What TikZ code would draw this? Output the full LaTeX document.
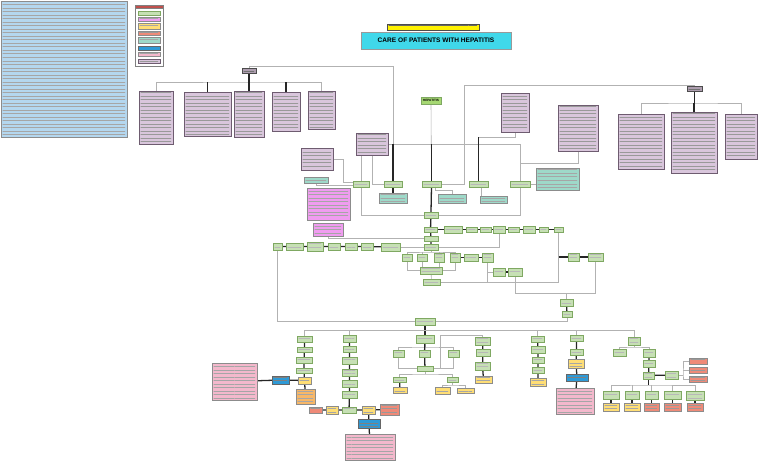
\documentclass[tikz,border=0pt]{standalone}
\usepackage{fontspec}
\setsansfont{Liberation Sans}
\usepackage{tikz}
\usetikzlibrary{patterns,calc,backgrounds}

\definecolor{infoblue}{HTML}{B4D7EF}
\definecolor{grn}{HTML}{C6E0B4}
\definecolor{grnline}{HTML}{7FA862}
\definecolor{hepgrn}{HTML}{A6D873}
\definecolor{mauve}{HTML}{D9C6DC}
\definecolor{mauveline}{HTML}{6E5C70}
\definecolor{tealc}{HTML}{9ED9C9}
\definecolor{magc}{HTML}{F09CF0}
\definecolor{pinkc}{HTML}{F4B8CC}
\definecolor{yelc}{HTML}{FFDE75}
\definecolor{salc}{HTML}{EF8A78}
\definecolor{orc}{HTML}{F7B768}
\definecolor{bluec}{HTML}{2F9AD6}
\definecolor{titlec}{HTML}{40D8EA}
\definecolor{legred}{HTML}{C0504D}

% box from its pixel corners: style, name, x1, y1, x2, y2
\newcommand{\mkbox}[6]{\node[#1,minimum width={(#5-#3)*0.3mm},minimum height={(#6-#4)*0.3mm}] (#2) at ({(#3+#5)/2},{(#4+#6)/2}) {};}

\begin{document}
\begin{tikzpicture}[x=0.3mm,y=-0.3mm,
  every node/.style={inner sep=0pt,outer sep=0pt},
  txt/.style={path picture={\fill[pattern=horizontal lines,pattern color=#1]
    ($(path picture bounding box.south west)+(1.4pt,1.1pt)$) rectangle
    ($(path picture bounding box.north east)+(-1.6pt,-1.3pt)$);}},
  txt/.default=black!40,
  ibox/.style={fill=infoblue,draw=black!45,line width=0.3pt,txt=black!35},
  legbox/.style={fill=white,draw=black!50,line width=0.3pt},
  leghead/.style={fill=legred,draw=black!50,line width=0.3pt},
  gbox/.style={fill=grn,draw=grnline,line width=0.3pt,txt=black!28},
  hepbox/.style={fill=hepgrn,draw=grnline,line width=0.4pt},
  mbox/.style={fill=mauve,draw=mauveline,line width=0.4pt,txt},
  mhead/.style={fill=mauve!80!black,draw=black!70,line width=0.4pt,txt=black!55},
  tbox/.style={fill=tealc,draw=black!45,line width=0.3pt,txt=black!35},
  vbox/.style={fill=magc,draw=black!45,line width=0.3pt,txt=black!35},
  pbox/.style={fill=pinkc,draw=black!45,line width=0.3pt,txt=black!35},
  ybox/.style={fill=yelc,draw=black!45,line width=0.3pt,txt=black!35},
  sbox/.style={fill=salc,draw=black!45,line width=0.3pt,txt=black!40},
  obox/.style={fill=orc,draw=black!45,line width=0.3pt,txt=black!35},
  bbox/.style={fill=bluec,draw=black!60,line width=0.3pt,txt=black!50},
  banner/.style={fill=yellow,draw=black!70,line width=0.4pt,txt=black!60},
  tbanner/.style={fill=titlec,draw=black!40,line width=0.3pt},
  ln/.style={draw=black!30,line width=0.5pt},
  tk/.style={draw=black!85,line width=1.1pt}]
\useasboundingbox (0,0) rectangle (768,462);

% info and legend
\mkbox{ibox}{info}{1}{1}{127}{137}
\mkbox{legbox}{legend}{135}{5}{163}{66}
\mkbox{leghead}{leghd}{135}{5}{163}{8.5}
\mkbox{gbox}{lg1}{138}{11}{160}{15}
\mkbox{vbox}{lg2}{138}{17}{160}{21}
\mkbox{ybox}{lg3}{138}{23}{160}{29}
\mkbox{sbox}{lg4}{138}{31}{160}{35}
\mkbox{tbox}{lg5}{138}{37}{160}{43}
\mkbox{bbox}{lg6}{138}{46}{160}{50}
\mkbox{pbox}{lg7}{138}{52}{160}{56}
\mkbox{mbox}{lg8}{138}{59}{160}{63}

% title
\mkbox{banner}{ban}{387}{24}{479}{30}
\mkbox{tbanner}{ttl}{361}{32}{511}{49}
\node (ttltxt) at (ttl) {\sffamily\bfseries\fontsize{5.6}{6}\selectfont CARE OF PATIENTS WITH HEPATITIS};

% left group
\mkbox{mhead}{mA}{242}{68}{256}{73}
\mkbox{mbox}{mA1}{139}{91}{173}{144}
\mkbox{mbox}{mA2}{184}{92}{231}{136}
\mkbox{mbox}{mA3}{234}{91}{264}{137}
\mkbox{mbox}{mA4}{272}{92}{300}{131}
\mkbox{mbox}{mA5}{308}{91}{335}{129}

% right group
\mkbox{mhead}{mB}{687}{86}{702}{91}
\mkbox{mbox}{mB1}{618}{114}{664}{169}
\mkbox{mbox}{mB2}{671}{112}{717}{173}
\mkbox{mbox}{mB3}{725}{114}{757}{159}

\mkbox{hepbox}{hep}{421}{97}{441}{104}
\node (heptxt) at (hep) {\sffamily\bfseries\fontsize{2.7}{3}\selectfont HEPATITIS};

\mkbox{mbox}{mC}{301}{148}{333}{170}
\mkbox{mbox}{mD}{356}{133}{388}{155}
\mkbox{mbox}{mE}{501}{93}{529}{132}
\mkbox{mbox}{mF}{558}{105}{598}{151}

% types row
\mkbox{gbox}{g1}{353}{181}{369}{187}
\mkbox{gbox}{g2}{384}{181}{402}{187}
\mkbox{gbox}{g3}{422}{181}{441}{187}
\mkbox{gbox}{g4}{469}{181}{488}{187}
\mkbox{gbox}{g5}{510}{181}{530}{187}
\mkbox{tbox}{tA}{304}{177}{328}{183}
\mkbox{tbox}{tB}{379}{193}{407}{203}
\mkbox{tbox}{tC}{438}{194}{466}{203}
\mkbox{tbox}{tD}{480}{196}{507}{203}
\mkbox{tbox}{tE}{536}{168}{579}{190}
\mkbox{vbox}{pA}{307}{188}{350}{220}
\mkbox{vbox}{pB}{313}{223}{343}{236}

% central chain
\mkbox{gbox}{X1}{424}{212}{438}{218}
\mkbox{gbox}{X2}{424}{227}{437}{232}
\mkbox{gbox}{X3}{424}{236}{438}{241}
\mkbox{gbox}{X4}{424}{244}{438}{250}
\mkbox{gbox}{R1}{444}{226}{462}{233}
\mkbox{gbox}{R2}{466}{227}{477}{232}
\mkbox{gbox}{R3}{480}{227}{491}{232}
\mkbox{gbox}{R4}{493}{226}{505}{233}
\mkbox{gbox}{R5}{508}{227}{519}{232}
\mkbox{gbox}{R6}{523}{226}{535}{233}
\mkbox{gbox}{R7}{539}{227}{548}{232}
\mkbox{gbox}{R8}{554}{227}{563}{232}
\mkbox{gbox}{S1}{568}{253}{579}{261}
\mkbox{gbox}{S2}{588}{253}{603}{261}
\mkbox{gbox}{T1}{560}{299}{573}{306}
\mkbox{gbox}{T2}{562}{311}{572}{317}
\mkbox{gbox}{L1}{273}{243}{282}{250}
\mkbox{gbox}{L2}{286}{243}{303}{250}
\mkbox{gbox}{L3}{307}{242}{323}{251}
\mkbox{gbox}{L4}{328}{243}{340}{250}
\mkbox{gbox}{L5}{345}{243}{357}{250}
\mkbox{gbox}{L6}{361}{243}{373}{250}
\mkbox{gbox}{L7}{381}{243}{400}{251}
\mkbox{gbox}{B1}{402}{254}{412}{261}
\mkbox{gbox}{B2}{417}{254}{427}{261}
\mkbox{gbox}{B3}{434}{253}{444}{262}
\mkbox{gbox}{B4}{450}{253}{460}{262}
\mkbox{gbox}{B5}{464}{254}{478}{261}
\mkbox{gbox}{B6}{482}{253}{493}{262}
\mkbox{gbox}{M1}{420}{267}{442}{274}
\mkbox{gbox}{Y2}{423}{279}{440}{285}
\mkbox{gbox}{Q1}{493}{268}{505}{276}
\mkbox{gbox}{Q2}{508}{268}{522}{276}
\mkbox{gbox}{H}{415}{318}{435}{325}

% column A
\mkbox{gbox}{a1}{297}{336}{312}{342}
\mkbox{gbox}{a2}{297}{347}{312}{352}
\mkbox{gbox}{a3}{296}{357}{312}{363}
\mkbox{gbox}{a4}{296}{368}{312}{373}
\mkbox{ybox}{a5}{298}{377}{311}{384}
\mkbox{obox}{a6}{296}{389}{315}{404}
\mkbox{bbox}{aB}{272}{376}{289}{384}
\mkbox{pbox}{aP}{212}{363}{257}{400}

% column B
\mkbox{gbox}{b1}{343}{335}{356}{342}
\mkbox{gbox}{b2}{343}{346}{356}{352}
\mkbox{gbox}{b3}{342}{357}{357}{364}
\mkbox{gbox}{b4}{342}{369}{357}{376}
\mkbox{gbox}{b5}{342}{380}{357}{387}
\mkbox{gbox}{b6}{342}{391}{357}{398}
\mkbox{gbox}{b7}{342}{407}{356}{413}
\mkbox{sbox}{bS1}{309}{407}{322}{413}
\mkbox{ybox}{bY1}{326}{406}{338}{414}
\mkbox{ybox}{bY2}{362}{406}{375}{414}
\mkbox{sbox}{bS2}{380}{404}{399}{415}
\mkbox{bbox}{bB}{358}{419}{380}{428}
\mkbox{pbox}{bP}{345}{434}{395}{460}

% column C
\mkbox{gbox}{c1}{416}{335}{434}{343}
\mkbox{gbox}{c2}{393}{350}{404}{357}
\mkbox{gbox}{c3}{419}{350}{430}{357}
\mkbox{gbox}{c4}{448}{350}{459}{357}
\mkbox{gbox}{cm}{417}{366}{433}{371}
\mkbox{gbox}{c5}{393}{377}{406}{382}
\mkbox{gbox}{c6}{447}{377}{458}{382}
\mkbox{ybox}{c7}{393}{387}{407}{393}
\mkbox{ybox}{c8}{435}{387}{450}{394}
\mkbox{ybox}{c9}{457}{388}{474}{393}
\mkbox{gbox}{cR1}{475}{337}{490}{345}
\mkbox{gbox}{cR2}{476}{349}{490}{356}
\mkbox{gbox}{cR3}{475}{362}{490}{370}
\mkbox{ybox}{cY}{475}{376}{492}{383}

% column D
\mkbox{gbox}{d1}{531}{336}{544}{342}
\mkbox{gbox}{d2}{531}{346}{545}{353}
\mkbox{gbox}{d3}{532}{357}{544}{363}
\mkbox{gbox}{d4}{532}{367}{544}{373}
\mkbox{ybox}{d5}{530}{378}{546}{386}

% column E
\mkbox{gbox}{e1}{570}{335}{583}{341}
\mkbox{gbox}{e2}{570}{349}{583}{355}
\mkbox{ybox}{e3}{568}{359}{584}{368}
\mkbox{bbox}{e4}{566}{374}{588}{381}
\mkbox{pbox}{e5}{556}{388}{594}{414}

% column F
\mkbox{gbox}{f1}{628}{337}{640}{345}
\mkbox{gbox}{f2}{613}{349}{626}{356}
\mkbox{gbox}{f3}{643}{349}{655}{357}
\mkbox{gbox}{f4}{643}{360}{655}{367}
\mkbox{gbox}{f5}{643}{372}{654}{379}
\mkbox{gbox}{f6}{665}{371}{678}{379}
\mkbox{sbox}{fS1}{689}{358}{707}{364}
\mkbox{sbox}{fS2}{689}{367}{707}{373}
\mkbox{sbox}{fS3}{689}{376}{707}{382}
\mkbox{gbox}{f7}{603}{391}{619}{399}
\mkbox{gbox}{f8}{625}{391}{639}{399}
\mkbox{gbox}{f9}{645}{391}{658}{399}
\mkbox{gbox}{f10}{664}{391}{681}{399}
\mkbox{gbox}{f11}{686}{391}{704}{400}
\mkbox{ybox}{f12}{603}{403}{619}{411}
\mkbox{ybox}{f13}{624}{403}{640}{411}
\mkbox{sbox}{f14}{644}{403}{659}{411}
\mkbox{sbox}{f15}{664}{403}{681}{411}
\mkbox{sbox}{f16}{687}{403}{703}{411}

\begin{scope}[on background layer]
% top groups
\draw[tk] (mA.south) -- ++(0,9) coordinate (barA);
\draw[ln] (mA1.north) |- (barA) -| (mA5.north);
\draw[tk] (mA2.north) -- (mA2.north |- barA);
\draw[tk] (mA3.north) -- (mA3.north |- barA);
\draw[tk] (mA4.north) -- (mA4.north |- barA);
\draw[ln] (mA.north) -- ++(0,-2) -| (g2.north);
\draw[tk] (mB.south) -- ++(0,12) coordinate (barB);
\draw[ln] (mB1.north) |- (barB) -| (mB3.north);
\draw[tk] (mB2.north) -- (mB2.north |- barB);
\draw[ln] (mB.north) -- ++(0,-1) -| ($(g3.east)+(23,0)$) -- (g3.east);
\draw[ln] (hep.south) -- (g3.north);
\draw[ln] (mD.east) -| (g5.north);
\draw[tk] (g2.north) -- (g2.north |- mD.east);
\draw[tk] (g3.north) -- (g3.north |- mD.east);
\draw[ln] (mE.south) -- ++(0,5) -| (g4.north);
\draw[tk] (g4.north) -- ++(0,-44);
\draw[ln] (mF.south) -- ++(0,12) -| (g5.north);
\draw[ln] (g1.north) -- (g1.north |- mD.south);
\draw[ln] (mD.south) |- (g2.west);
\draw[ln] (mC.east) -- ++(10,0) |- ($(g1.west)+(0,-1.5)$);
\draw[ln] (tA.south) |- ($(g1.west)+(0,1.5)$);
% types row
\draw[ln] (g1.south) |- (X1.west);
\draw[tk] (g2.south) -- (g2.south |- tB.north);
\draw[tk] (g3.south) -- (X1.north);
\draw[ln] (tC.north) |- ($(g3.south)+(4,3)$) -- ++(0,-3);
\draw[ln] ($(g4.south)+(3,0)$) -- ++(0,9);
\draw[ln] (g5.east) -- (g5.east -| tE.west);
\draw[ln] (g5.south) |- (X1.east);
\draw[ln] (pB.south) |- (X3.west);
% central chain
\draw[tk] (X1) -- (X2) -- (X3) -- (X4);
\draw[tk] (X2) -- (R1) -- (R2) -- (R3) -- (R4) -- (R5) -- (R6) -- (R7) -- (R8);
\draw[ln] (R4.south) |- (X4.east);
\draw[ln] (R8.south) |- (Y2.east);
\draw[tk] (R8.south |- S1.west) -- (S1.west);
\draw[tk] (S1) -- (S2);
\draw[ln] (S2.south) -- ++(0,32) coordinate (jS) -| (Q2.south);
\draw[ln] (T1.north) -- (T1.north |- jS);
\draw[tk] (T1) -- (T2);
\draw[ln] (T2.south) |- (H.east);
\draw[tk] (L1) -- (L2) -- (L3) -- (L4) -- (L5) -- (L6) -- (L7);
\draw[ln] (L7) -- (X4);
\draw[ln] (L1.south) |- (H.west);
\draw[ln] (X4.south) -- ++(0,2) coordinate (jX);
\draw[ln] (B1.north) |- (jX) -| (B4.north);
\draw[ln] (B2.north) -- (B2.north |- jX);
\draw[ln] (B3.north) -- (B3.north |- jX);
\draw[tk] (B4) -- (B5) -- (B6);
\draw[ln] (B1.south) |- (M1.west);
\draw[ln] (B4.south) |- (M1.east);
\draw[ln] (B2.south) -- (B2.south |- M1.north);
\draw[ln] (B3.south) -- (B3.south |- M1.north);
\draw[ln] (M1) -- (Y2);
\draw[ln] (B6.south) |- (Q1.west);
\draw[ln] (B6.south) |- (Y2.east);
\draw[tk] (Q1) -- (Q2);
% bottom bus
\draw[tk] (H.south) -- (c1.north);
\coordinate (jH) at ($(H.south)+(0,5.5)$);
\draw[ln] (a1.north) |- (jH) -| (f1.north);
\draw[ln] (b1.north) -- (b1.north |- jH);
\draw[ln] (d1.north) -- (d1.north |- jH);
\draw[ln] (e1.north) -- (e1.north |- jH);
% column A
\draw[tk] (a1) -- (a2) -- (a3) -- (a4) -- (a5) -- (a6);
\draw[tk] (aP) -- (aB) -- (a5);
% column B
\draw[tk] (b1) -- (b2) -- (b3) -- (b4) -- (b5) -- (b6) -- (b7);
\draw[tk] (bS1) -- (bY1) -- (b7) -- (bY2) -- (bS2);
\draw[tk] (bY2) -- (bB) -- (bP);
% column C
\draw[ln] (c1.south) -- ++(0,4) coordinate (jC);
\draw[ln] (c2.north) |- (jC) -| (c4.north);
\draw[tk] (c1) -- (c3) -- (cm);
\draw[ln] (c2.south) |- (cm.west);
\draw[ln] (c4.south) |- (cm.east);
\draw[ln] (cR1.north) -- ++(0,-2) -| ($(cm.east)+(7,0)$) -- (cm.east);
\draw[tk] (cR1) -- (cR2) -- (cR3) -- (cY);
\draw[ln] (cm.south) -- ++(0,3) coordinate (jM);
\draw[ln] (c5.north) |- (jM) -| (c6.north);
\draw[tk] (c5) -- (c7);
\draw[ln] (c6.south) -- ++(0,3) coordinate (jN);
\draw[ln] (c8.north) |- (jN) -| (c9.north);
% columns D and E
\draw[tk] (d1) -- (d2) -- (d3) -- (d4) -- (d5);
\draw[tk] (e1) -- (e2) -- (e3) -- (e4) -- (e5);
% column F
\draw[ln] (f1.south) -- ++(0,2) coordinate (jF);
\draw[ln] (f2.north) |- (jF) -| (f3.north);
\draw[tk] (f3) -- (f4) -- (f5) -- (f6);
\draw[ln] (f6.east) -- ++(5,0) coordinate (jG);
\draw[ln] (fS1.west) -| (jG) |- (fS3.west);
\draw[ln] (jG |- fS2.west) -- (fS2.west);
\draw[tk] (f5.south) -- ++(0,6) coordinate (jP);
\draw[ln] (f7.north) |- (jP) -| (f11.north);
\draw[ln] (f8.north) -- (f8.north |- jP);
\draw[ln] (f9.north) -- (f9.north |- jP);
\draw[ln] (f10.north) -- (f10.north |- jP);
\draw[tk] (f7) -- (f12);
\draw[tk] (f8) -- (f13);
\draw[tk] (f9) -- (f14);
\draw[tk] (f10) -- (f15);
\draw[tk] (f11) -- (f16);
\end{scope}
\end{tikzpicture}
\end{document}
